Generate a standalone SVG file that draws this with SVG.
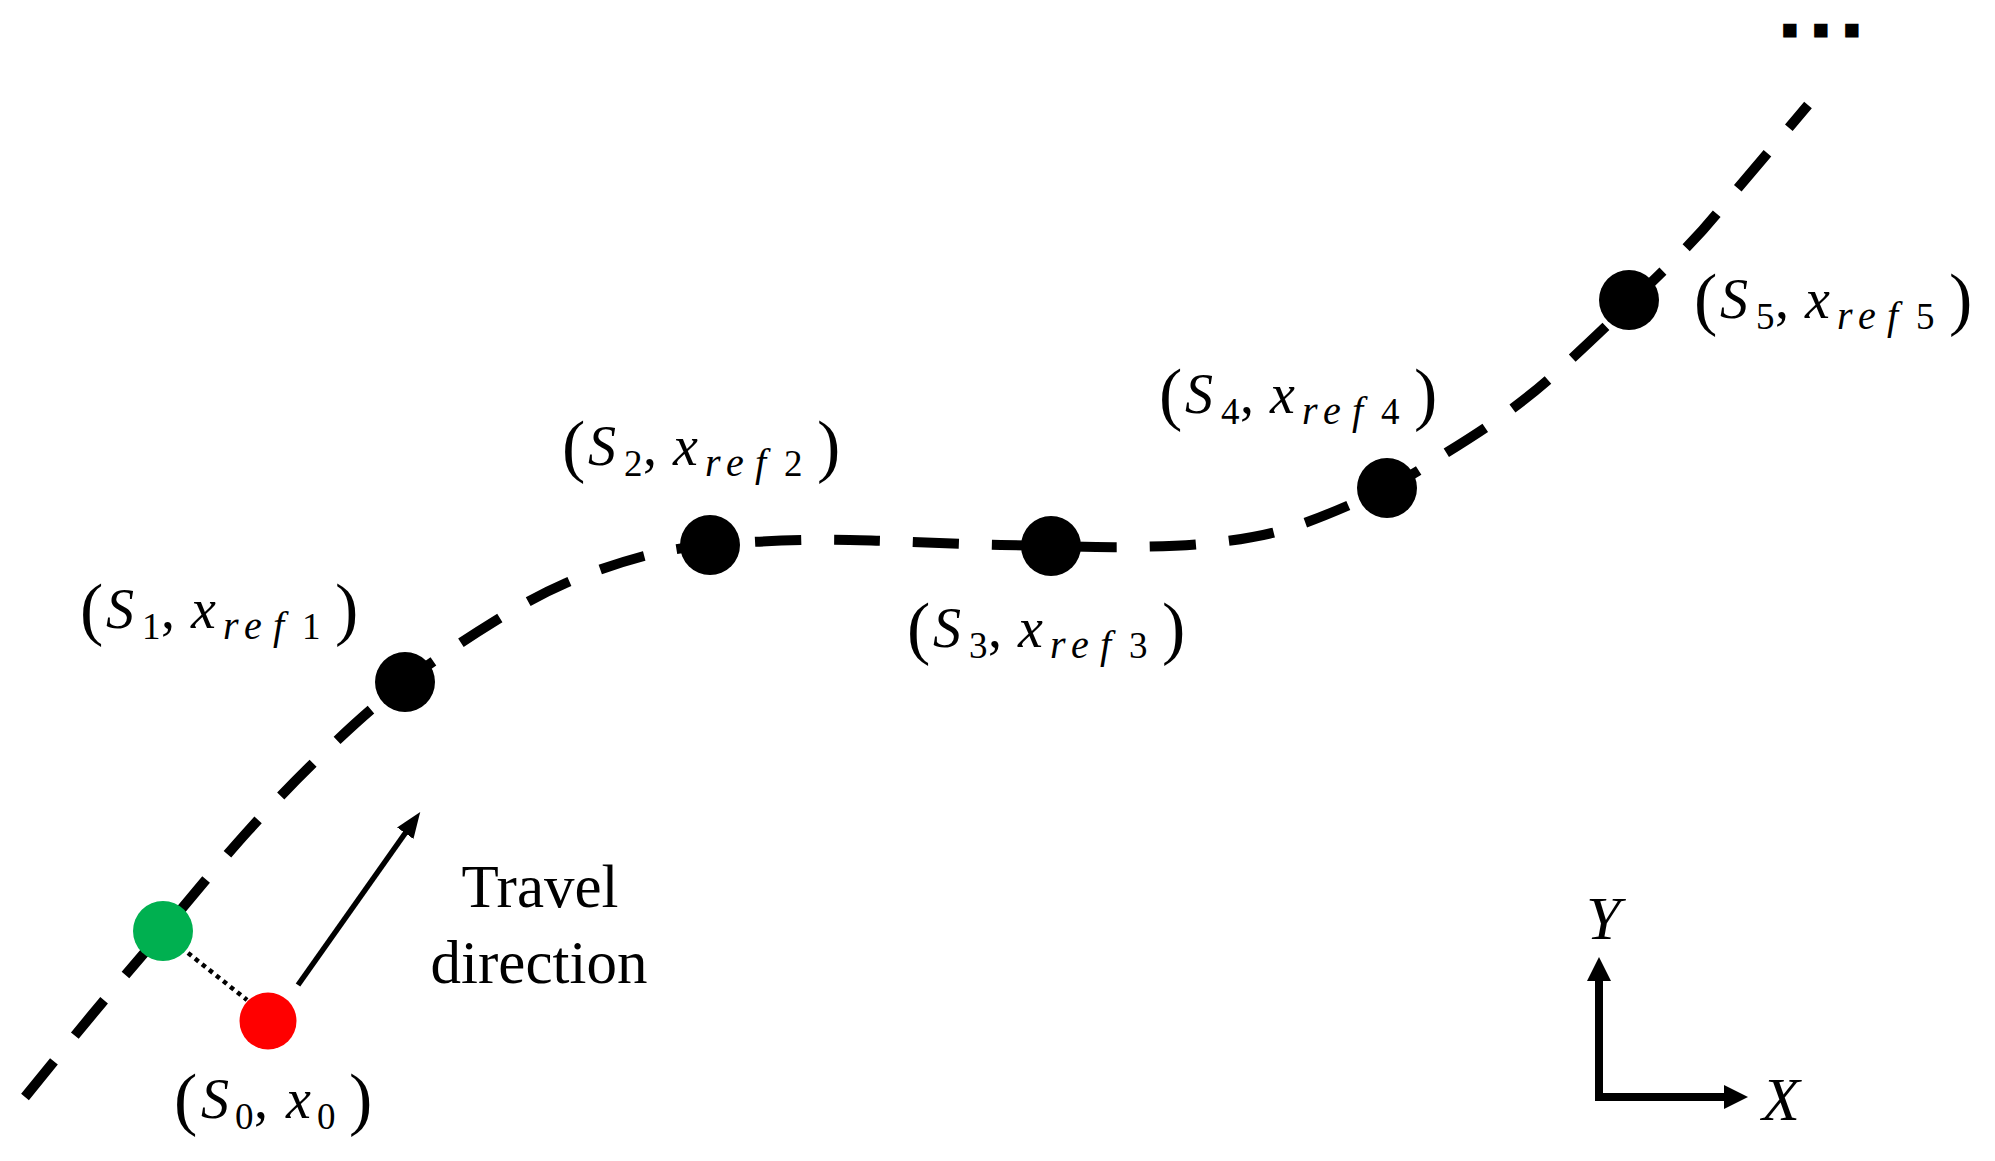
<svg xmlns="http://www.w3.org/2000/svg" width="1995" height="1161" viewBox="0 0 1995 1161">
<style>
text { font-family: "Liberation Serif", "Times New Roman", serif; fill: #000; }
.p { font-size: 70px; }
.i { font-style: italic; font-size: 56px; }
.c { font-size: 56px; }
.si { font-style: italic; font-size: 40px; }
.sd { font-size: 37px; }
.lbl { font-size: 61px; text-anchor: middle; }
.ax { font-style: italic; font-size: 62px; }
.dot { fill: #000; }
.track { fill: none; stroke: #000; stroke-width: 10; stroke-dasharray: 46 33; }
</style>
<defs>
<marker id="headT" markerUnits="userSpaceOnUse" viewBox="0 0 26 20" markerWidth="26" markerHeight="20" refX="10" refY="10" orient="auto">
<path d="M0,0 L26,10 L0,20 z" fill="#000"/>
</marker>
<marker id="headA" markerUnits="userSpaceOnUse" viewBox="0 0 24 24" markerWidth="24" markerHeight="24" refX="10" refY="12" orient="auto-start-reverse">
<path d="M0,0 L24,12 L0,24 z" fill="#000"/>
</marker>
</defs>
<rect width="1995" height="1161" fill="#fff"/>

<g id="connectors">
<path id="reference-path" class="track" d="M25,1097 C36,1083.5 68,1043.7 91,1016 C114,988.3 136.8,961.8 163,931 C189.2,900.2 220.2,861.7 248,831 C275.8,800.3 303.8,771.8 330,747 C356.2,722.2 377.5,703 405,682 C432.5,661 468.2,637.5 495,621 C521.8,604.5 541.2,593.8 566,583 C590.8,572.2 620,562.3 644,556 C668,549.7 683.2,547.7 710,545 C736.8,542.3 775.8,540.7 805,540 C834.2,539.3 858,540.3 885,541 C912,541.7 939.3,543.2 967,544 C994.7,544.8 1024.2,545.5 1051,546 C1077.8,546.5 1101.5,547.5 1128,547 C1154.5,546.5 1183,546.2 1210,543 C1237,539.8 1260.5,537.2 1290,528 C1319.5,518.8 1362.3,499.7 1387,488 C1411.7,476.3 1418.3,470.3 1438,458 C1457.7,445.7 1483.3,430 1505,414 C1526.7,398 1538.2,389.3 1568,362 C1597.8,334.7 1655.7,279 1684,250 C1712.3,221 1717.3,212.2 1738,188 C1758.7,163.8 1796.3,118.8 1808,105"/>
<line id="projection" x1="188" y1="953" x2="247" y2="1000" stroke="#000" stroke-width="4.5" stroke-dasharray="4.5 4.5"/>
<line id="travel-arrow" x1="298" y1="985" x2="411" y2="825" stroke="#000" stroke-width="5.5" marker-end="url(#headT)"/>
<path id="axes" d="M1599,971 V1097 H1734" fill="none" stroke="#000" stroke-width="8" stroke-linejoin="miter" marker-start="url(#headA)" marker-end="url(#headA)"/>
</g>

<text id="ellipsis" x="1783" y="33.5" style="font-family:'DejaVu Sans',sans-serif;font-weight:bold;font-size:36px;letter-spacing:17.3px;stroke:#000;stroke-width:7;stroke-linejoin:miter">...</text>

<g id="node-green">
<circle cx="163" cy="931" r="30" fill="#00B050"/>
</g>

<g id="node-s0">
<circle cx="268" cy="1021" r="28.5" fill="#FF0000"/>
<text><tspan class="p" x="174" y="1122">(</tspan><tspan class="i" x="201" y="1118">S</tspan><tspan class="sd" x="235" y="1129">0</tspan><tspan class="c" x="254" y="1118">,</tspan><tspan class="i" x="286" y="1118">x</tspan><tspan class="sd" x="317" y="1129">0</tspan><tspan class="p" x="349" y="1122">)</tspan></text>
</g>

<g id="node-s1">
<circle class="dot" cx="405" cy="682" r="30"/>
<text><tspan class="p" x="80" y="632">(</tspan><tspan class="i" x="106" y="628">S</tspan><tspan class="sd" x="142" y="639">1</tspan><tspan class="c" x="161" y="628">,</tspan><tspan class="i" x="191" y="628">x</tspan><tspan class="si" x="223" y="639">r</tspan><tspan class="si" x="244" y="639">e</tspan><tspan class="si" x="273" y="639">f</tspan><tspan class="sd" x="302" y="639">1</tspan><tspan class="p" x="335" y="632">)</tspan></text>
</g>

<g id="node-s2">
<circle class="dot" cx="710" cy="545" r="30"/>
<text><tspan class="p" x="562" y="469">(</tspan><tspan class="i" x="588" y="465">S</tspan><tspan class="sd" x="624" y="476">2</tspan><tspan class="c" x="643" y="465">,</tspan><tspan class="i" x="673" y="465">x</tspan><tspan class="si" x="705" y="476">r</tspan><tspan class="si" x="726" y="476">e</tspan><tspan class="si" x="755" y="476">f</tspan><tspan class="sd" x="784" y="476">2</tspan><tspan class="p" x="817" y="469">)</tspan></text>
</g>

<g id="node-s3">
<circle class="dot" cx="1051" cy="546" r="30"/>
<text><tspan class="p" x="907" y="651">(</tspan><tspan class="i" x="933" y="647">S</tspan><tspan class="sd" x="969" y="658">3</tspan><tspan class="c" x="988" y="647">,</tspan><tspan class="i" x="1018" y="647">x</tspan><tspan class="si" x="1050" y="658">r</tspan><tspan class="si" x="1071" y="658">e</tspan><tspan class="si" x="1100" y="658">f</tspan><tspan class="sd" x="1129" y="658">3</tspan><tspan class="p" x="1162" y="651">)</tspan></text>
</g>

<g id="node-s4">
<circle class="dot" cx="1387" cy="488" r="30"/>
<text><tspan class="p" x="1159" y="417">(</tspan><tspan class="i" x="1185" y="413">S</tspan><tspan class="sd" x="1221" y="424">4</tspan><tspan class="c" x="1240" y="413">,</tspan><tspan class="i" x="1270" y="413">x</tspan><tspan class="si" x="1302" y="424">r</tspan><tspan class="si" x="1323" y="424">e</tspan><tspan class="si" x="1352" y="424">f</tspan><tspan class="sd" x="1381" y="424">4</tspan><tspan class="p" x="1414" y="417">)</tspan></text>
</g>

<g id="node-s5">
<circle class="dot" cx="1629" cy="300" r="30"/>
<text><tspan class="p" x="1694" y="322">(</tspan><tspan class="i" x="1720" y="318">S</tspan><tspan class="sd" x="1756" y="329">5</tspan><tspan class="c" x="1775" y="318">,</tspan><tspan class="i" x="1805" y="318">x</tspan><tspan class="si" x="1837" y="329">r</tspan><tspan class="si" x="1858" y="329">e</tspan><tspan class="si" x="1887" y="329">f</tspan><tspan class="sd" x="1916" y="329">5</tspan><tspan class="p" x="1949" y="322">)</tspan></text>
</g>

<g id="travel-label">
<text class="lbl" x="540" y="907">Travel</text>
<text class="lbl" x="539" y="983">direction</text>
</g>

<g id="axis-labels">
<text class="ax" x="1586" y="939">Y</text>
<text class="ax" x="1762" y="1120">X</text>
</g>
</svg>
